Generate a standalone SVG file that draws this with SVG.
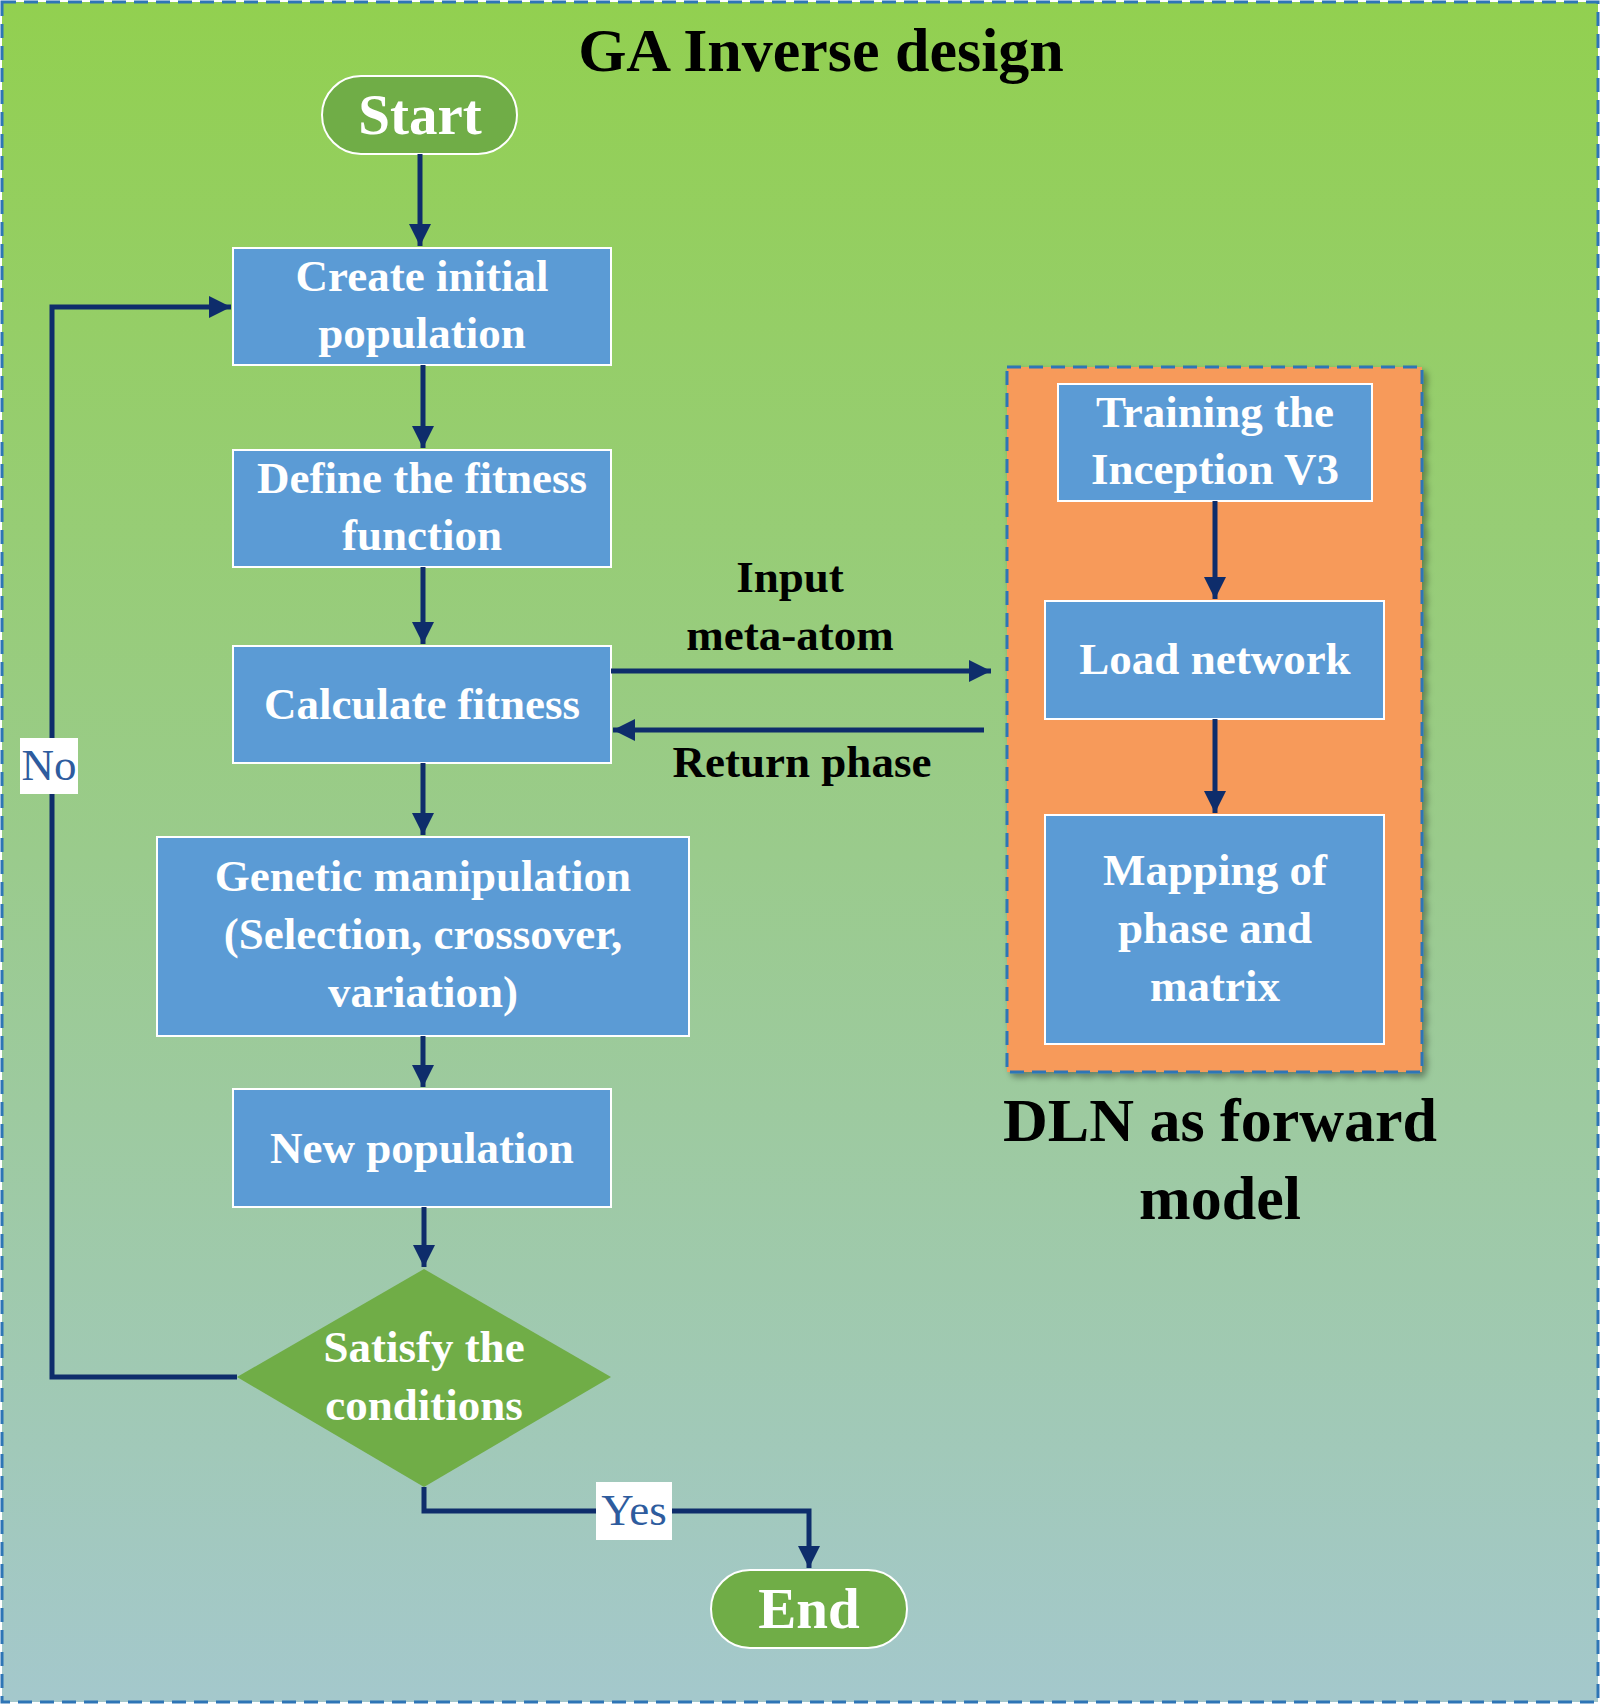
<svg xmlns="http://www.w3.org/2000/svg" width="1600" height="1704" viewBox="0 0 1600 1704">
<defs>
<linearGradient id="bg" x1="0" y1="0" x2="0" y2="1"><stop offset="0" stop-color="#92D050"/><stop offset="0.5" stop-color="#9ACB8C"/><stop offset="1" stop-color="#A4C8CC"/></linearGradient>
<marker id="a" viewBox="0 0 10 10" refX="10" refY="5" markerWidth="24" markerHeight="22" orient="auto" markerUnits="userSpaceOnUse"><path d="M0,0 L10,5 L0,10 z" fill="#0E2D6B"/></marker>
<filter id="sh"><feDropShadow dx="4" dy="4" stdDeviation="3" flood-opacity="0.35"/></filter>
</defs>
<style>
.box{fill:#5B9BD5;stroke:#fff;stroke-width:2}
.pill{fill:#70AD47;stroke:#fff;stroke-width:2}
.wt{font-family:"Liberation Serif",serif;font-weight:bold;fill:#fff;font-size:45px;text-anchor:middle}
.bt{font-family:"Liberation Serif",serif;font-weight:bold;fill:#000;font-size:45px;text-anchor:middle}
.big{font-size:62px}
.pt{font-size:57px}
.c{fill:none;stroke:#0E2D6B;stroke-width:5;marker-end:url(#a)}
.lb{font-family:"Liberation Serif",serif;fill:#2E5C9E;font-size:45px;text-anchor:middle}
</style>
<rect x="2" y="2" width="1596" height="1700" fill="url(#bg)" stroke="#2E75B6" stroke-width="3" stroke-dasharray="14,8"/>
<text class="bt big" x="821" y="71">GA Inverse design</text>
<g id="orange"><rect x="1007" y="367" width="415" height="705" fill="#F79A5A" stroke="#2E75B6" stroke-width="3" stroke-dasharray="14,8" filter="url(#sh)"/></g>
<g id="start"><rect x="322" y="76" width="195" height="78" rx="39" class="pill"/><text class="wt pt" x="420" y="134">Start</text></g>
<g id="create"><rect x="233" y="248" width="378" height="117" class="box"/><text class="wt" x="422" y="291">Create initial</text><text class="wt" x="422" y="348">population</text></g>
<g id="define"><rect x="233" y="450" width="378" height="117" class="box"/><text class="wt" x="422" y="493">Define the fitness</text><text class="wt" x="422" y="550">function</text></g>
<g id="calc"><rect x="233" y="646" width="378" height="117" class="box"/><text class="wt" x="422" y="719">Calculate fitness</text></g>
<g id="genetic"><rect x="157" y="837" width="532" height="199" class="box"/><text class="wt" x="423" y="891">Genetic manipulation</text><text class="wt" x="423" y="949">(Selection, crossover,</text><text class="wt" x="423" y="1007">variation)</text></g>
<g id="newpop"><rect x="233" y="1089" width="378" height="118" class="box"/><text class="wt" x="422" y="1163">New population</text></g>
<g id="diamond"><polygon points="424,1269 611,1377 424,1487 237,1377" fill="#70AD47"/><text class="wt" x="424" y="1362">Satisfy the</text><text class="wt" x="424" y="1420">conditions</text></g>
<g id="end"><rect x="711" y="1570" width="196" height="78" rx="39" class="pill"/><text class="wt pt" x="809" y="1628">End</text></g>
<g id="training"><rect x="1058" y="384" width="314" height="117" class="box"/><text class="wt" x="1215" y="427">Training the</text><text class="wt" x="1215" y="484">Inception V3</text></g>
<g id="load"><rect x="1045" y="601" width="339" height="118" class="box"/><text class="wt" x="1215" y="674">Load network</text></g>
<g id="mapping"><rect x="1045" y="815" width="339" height="229" class="box"/><text class="wt" x="1215" y="885">Mapping of</text><text class="wt" x="1215" y="943">phase and</text><text class="wt" x="1215" y="1001">matrix</text></g>
<text class="bt big" x="1220" y="1141">DLN as forward</text>
<text class="bt big" x="1220" y="1219">model</text>
<g id="connectors">
<path class="c" d="M420,154 V246"/>
<path class="c" d="M423,365 V448"/>
<path class="c" d="M423,567 V644"/>
<path class="c" d="M423,763 V835"/>
<path class="c" d="M423,1036 V1087"/>
<path class="c" d="M424,1207 V1267"/>
<path class="c" d="M237,1377 H52 V307 H231"/>
<path class="c" d="M424,1487 V1511 H809 V1568"/>
<path class="c" d="M611,671 H991"/>
<path class="c" d="M984,730 H613"/>
<path class="c" d="M1215,501 V599"/>
<path class="c" d="M1215,719 V813"/>
</g>
<rect x="20" y="738" width="58" height="56" fill="#fff"/><text class="lb" x="49" y="780">No</text>
<rect x="596" y="1482" width="76" height="58" fill="#fff"/><text class="lb" x="634" y="1525">Yes</text>
<text class="bt" x="790" y="592">Input</text>
<text class="bt" x="790" y="650">meta-atom</text>
<text class="bt" x="802" y="777">Return phase</text>
</svg>
